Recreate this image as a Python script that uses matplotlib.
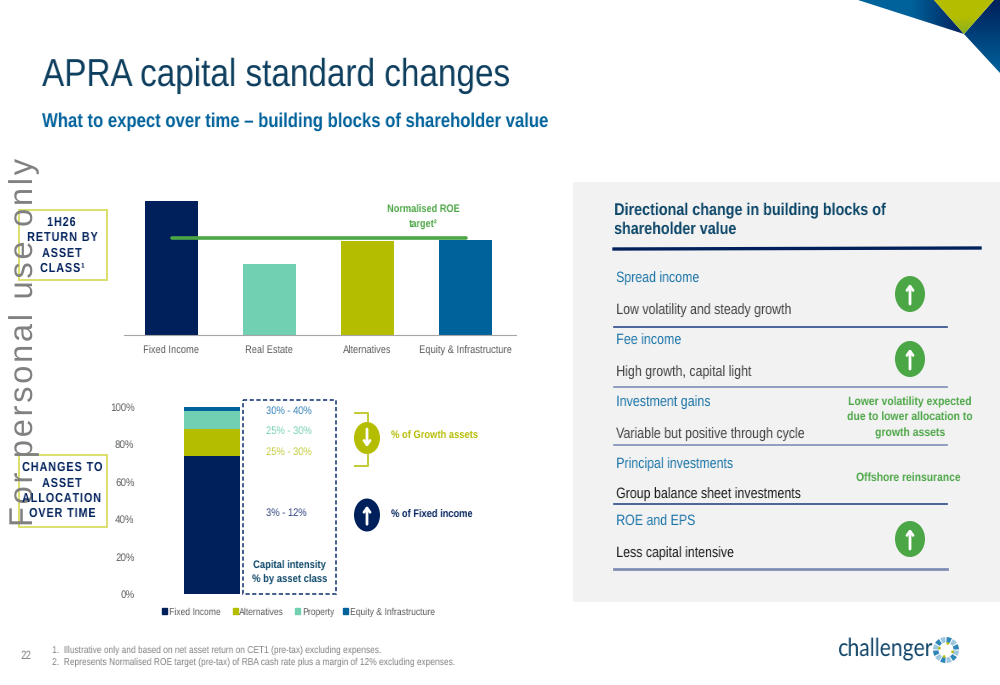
import numpy as np
import matplotlib
matplotlib.use("Agg")
import matplotlib.pyplot as plt
from matplotlib.patches import Ellipse, Patch, Polygon, Rectangle, Wedge
from matplotlib.text import Text

# return by asset class
return_labels = ["Fixed Income", "Real Estate", "Alternatives", "Equity & Infrastructure"]
return_values = [13.9, 7.3, 9.7, 9.8]
target_roe = 10.0

# asset allocation stack
alloc_labels = ["Fixed Income", "Alternatives", "Property", "Equity & Infrastructure"]
alloc_values = [74, 14, 10, 2]
alloc_ticks = [0, 20, 40, 60, 80, 100]

NAVY = "#00205b"
TEAL = "#71cfb2"
LIME = "#b5bd00"
BLUE = "#00629b"
GREEN = "#4ba645"
GREY = "#595959"
HEAD = "#0b4668"
SQUEEZE = 0.85

plt.rcParams["font.family"] = ["Liberation Sans", "DejaVu Sans"]
plt.rcParams["text.hinting"] = "no_hinting"

fig = plt.figure(figsize=(10, 6.85), dpi=100)


def px_axes(left, top, right, bottom):
    return fig.add_axes([left / 1000, 1 - bottom / 685, (right - left) / 1000, (bottom - top) / 685])


def squeeze(ha):
    # there is no condensed Arial here, so narrow the rendered text instead
    def apply(img, dpi):
        h, w = img.shape[:2]
        new_w = max(int(round(w * SQUEEZE)), 2)
        xs = np.linspace(0, w - 1, new_w)
        alpha = img[..., 3]
        out = np.zeros((h, new_w + 2, 4))
        for row in range(h):
            a = np.interp(xs, np.arange(w), alpha[row])
            out[row, :new_w, 3] = a
            for ch in range(3):
                pre = np.interp(xs, np.arange(w), img[row, :, ch] * alpha[row])
                out[row, :new_w, ch] = np.divide(pre, a, out=np.zeros(new_w), where=a > 0)
        shift = {"left": 0, "center": (w - new_w) // 2, "right": w - new_w}[ha]
        return out, shift, 0
    return apply


# top chart
ax1 = px_axes(123.5, 190, 515.5, 335)
ax1.bar(range(4), return_values, width=0.55, color=[NAVY, TEAL, LIME, BLUE])
ax1.plot([0, 3], [target_roe, target_roe], color=GREEN, lw=2.6, solid_capstyle="round")
ax1.set_xlim(-0.49, 3.51)
ax1.set_ylim(0, 15)
ax1.set_yticks([])
ax1.set_xticks(range(4), return_labels, fontsize=7.9, color=GREY)
ax1.tick_params(axis="x", length=0, pad=8)
for side in ("top", "left", "right"):
    ax1.spines[side].set_visible(False)
ax1.spines["bottom"].set_color("#a6a6a6")
ax1.patch.set_alpha(0)

# stacked chart
ax2 = px_axes(140, 407, 284, 594)
bottom = 0
alloc_colors = [NAVY, LIME, TEAL, BLUE]
for value, color in zip(alloc_values, alloc_colors):
    ax2.bar(0, value, bottom=bottom, width=1, color=color)
    bottom += value
ax2.set_xlim(-1.286, 1.286)
ax2.set_ylim(0, 100)
ax2.set_xticks([])
ax2.set_yticks(alloc_ticks, [f"{t}%" for t in alloc_ticks], fontsize=8.1, color=GREY)
ax2.tick_params(axis="y", length=0, pad=4)
for spine in ax2.spines.values():
    spine.set_visible(False)
ax2.patch.set_alpha(0)
handles = [Patch(color=c, label=l) for c, l in zip(alloc_colors, alloc_labels)]
fig.legend(handles=handles, ncol=4, frameon=False, fontsize=7.3, labelcolor=GREY,
           loc="center left", bbox_to_anchor=(0.162, 1 - 612 / 685), borderpad=0, borderaxespad=0,
           handlelength=0.5, handleheight=0.5, handletextpad=0.15, columnspacing=0.32)

# page furniture sits on one overlay in pixel units
pg = fig.add_axes([0, 0, 1, 1], zorder=5)
pg.set_xlim(0, 1000)
pg.set_ylim(685, 0)
pg.axis("off")


def corner_fill(points, colors, extent, horizontal=True):
    # gradient clipped to a polygon
    cmap = matplotlib.colors.LinearSegmentedColormap.from_list("g", colors)
    ramp = np.linspace(0, 1, 128)
    ramp = ramp[None, :] if horizontal else ramp[:, None]
    img = pg.imshow(ramp, cmap=cmap, extent=extent, aspect="auto", zorder=1)
    shape = Polygon(points, closed=True, transform=pg.transData, fc="none", ec="none")
    pg.add_patch(shape)
    img.set_clip_path(shape)


corner_fill([(858, 0), (934, 0), (964, 34)], [BLUE, BLUE, NAVY], (858, 964, 34, 0))
corner_fill([(994, 0), (1000, 0), (1000, 73), (964, 34)], [NAVY, BLUE], (964, 1000, 73, 0), horizontal=False)
corner_fill([(934, 0), (994, 0), (964, 34)], [LIME, LIME, "#86b022"], (934, 994, 34, 0), horizontal=False)
pg.set_xlim(0, 1000)
pg.set_ylim(685, 0)

pg.text(42, 76, "APRA capital standard changes", fontsize=28.2, color="#0f3f5f", va="center")
pg.text(42, 122, "What to expect over time – building blocks of shareholder value",
        fontsize=14.1, fontweight="bold", color=BLUE, va="center")

# right hand panel
pg.add_patch(Rectangle((573, 182), 427, 420, fc="#f2f2f2", ec="none", zorder=0))
pg.text(614, 210, "Directional change in building blocks of", fontsize=12.2, fontweight="bold", color=HEAD, va="center")
pg.text(614, 229, "shareholder value", fontsize=12.2, fontweight="bold", color=HEAD, va="center")
pg.plot([614, 980], [249, 248], color=NAVY, lw=2.4)

row_titles = ["Spread income", "Fee income", "Investment gains", "Principal investments", "ROE and EPS"]
row_details = ["Low volatility and steady growth", "High growth, capital light",
               "Variable but positive through cycle", "Group balance sheet investments", "Less capital intensive"]
title_y = [278, 341, 402, 464, 522]
detail_y = [310, 372, 434, 494, 553]
rule_y = [327, 387, 445, 504, 569]
detail_colors = ["#404040", "#404040", "#404040", "#1a1a1a", "#1a1a1a"]
for i in range(5):
    pg.text(616, title_y[i], row_titles[i], fontsize=10.5, color="#1a74a8", va="center")
    pg.text(616, detail_y[i], row_details[i], fontsize=10.5, color=detail_colors[i], va="center")
    pg.plot([614, 947], [rule_y[i], rule_y[i]], color="#7f8fb5" if i in (1, 2, 4) else "#2f4a8a",
            lw=2 if i == 4 else 1.2)


def arrow_badge(cx, cy, w, h, color, up=True):
    pg.add_patch(Ellipse((cx, cy), w, h, fc=color, ec="none", zorder=3))
    half = h * 0.28
    tail, tip = (cy + half, cy - half) if up else (cy - half, cy + half)
    pg.annotate("", xy=(cx, tip), xytext=(cx, tail), zorder=4,
                arrowprops=dict(arrowstyle="->,head_width=0.22,head_length=0.3", color="white", lw=2,
                                shrinkA=0, shrinkB=0))


for cy in (294, 359, 539):
    arrow_badge(910, cy, 30, 36, GREEN)

for y, s in zip((402, 417, 433), ("Lower volatility expected", "due to lower allocation to", "growth assets")):
    pg.text(910, y, s, fontsize=8.8, fontweight="bold", color=GREEN, ha="center", va="center")
pg.text(908, 478, "Offshore reinsurance", fontsize=8.7, fontweight="bold", color=GREEN, ha="center", va="center")

# capital intensity call-outs
pg.add_patch(Rectangle((243, 400), 93, 194, fc="none", ec="#1f3f7a", lw=1.2, ls=(0, (2.5, 1.5))))
for y, s, c in ((411, "30% - 40%", "#2f7fb5"), (431, "25% - 30%", TEAL), (452, "25% - 30%", "#c3ca33"), (513, "3% - 12%", "#2a3f7a")):
    pg.text(266, y, s, fontsize=7.9, color=c, va="center")
pg.text(290, 566, "Capital intensity", fontsize=8, fontweight="bold", color=HEAD, ha="center", va="center")
pg.text(290, 580, "% by asset class", fontsize=8, fontweight="bold", color=HEAD, ha="center", va="center")

pg.plot([355, 368, 368], [413, 413, 423], color="#c3ca33", lw=1.4)
pg.plot([355, 368, 368], [466, 466, 455], color="#c3ca33", lw=1.4)
arrow_badge(367, 438, 26, 32, LIME, up=False)
arrow_badge(367, 515, 26, 33, NAVY)
pg.text(391, 436, "% of Growth assets", fontsize=7.9, fontweight="bold", color=LIME, va="center")
pg.text(391, 515, "% of Fixed income", fontsize=7.9, fontweight="bold", color=NAVY, va="center")

pg.text(424, 210, "Normalised ROE", fontsize=7.8, fontweight="bold", color=GREEN, ha="center", va="center")
pg.text(424, 224, "target²", fontsize=7.8, fontweight="bold", color=GREEN, ha="center", va="center")


def spaced(s):
    return "\u200a".join(s)


def side_box(top, bottom, lines):
    pg.add_patch(Rectangle((19, top), 88, bottom - top, fc="white", ec="#dadf6b", lw=1.4, zorder=2))
    for i, line in enumerate(lines):
        pg.text(62, top + 13 + 15.2 * i, spaced(line), fontsize=9.2, fontweight="bold", color=NAVY,
                ha="center", va="center", zorder=6)


side_box(210, 280, ["1H26", "RETURN BY", "ASSET", "CLASS¹"])
side_box(455, 527, ["CHANGES TO", "ASSET", "ALLOCATION", "OVER TIME"])

pg.text(25, 342, spaced("For personal use only"), fontsize=23.5, color="#808080", rotation=90,
        ha="center", va="center", zorder=5)

# footer
pg.text(26, 656, "22", fontsize=8.5, color="#7f7f7f", ha="center", va="center")
pg.text(52, 650, "1.  Illustrative only and based on net asset return on CET1 (pre-tax) excluding expenses.",
        fontsize=7.1, color="#7f7f7f", va="center")
pg.text(52, 662, "2.  Represents Normalised ROE target (pre-tax) of RBA cash rate plus a margin of 12% excluding expenses.",
        fontsize=7.1, color="#7f7f7f", va="center")

# logo
pg.text(838, 649, "challenger", family="Lato", fontsize=17.8, color="#0f4468", va="center")
for k in range(12):
    ang = k * 30
    pg.add_patch(Wedge((946, 650), 13, ang + 3, ang + 27, width=5.5, fc="#2f86b8" if k % 2 else "#9cc7df", ec="none"))
    if k % 3 == 0:
        pg.add_patch(Wedge((946, 650), 8, ang + 5, ang + 25, width=2.5, fc=LIME, ec="none"))

for t in fig.findobj(Text):
    if t.get_text() and t.get_rotation() == 0:
        t.set_agg_filter(squeeze(t.get_ha()))

fig.savefig("out.png", dpi=100)
